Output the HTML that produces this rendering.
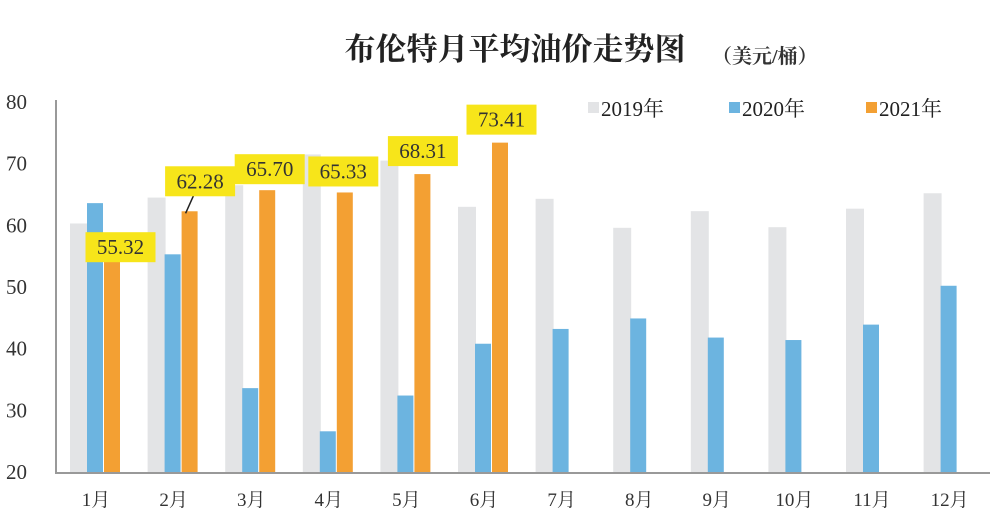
<!DOCTYPE html>
<html><head><meta charset="utf-8">
<style>
html,body{margin:0;padding:0;background:#fff;}
svg{display:block;}
text{font-family:"Liberation Serif","Noto Serif CJK SC",serif;}
</style></head>
<body>
<svg id="chart" width="1000" height="530" viewBox="0 0 1000 530">
<text x="515" y="60" text-anchor="middle" font-size="31" font-weight="bold" fill="#222">布伦特月平均油价走势图</text>
<text x="712" y="63" font-size="20" font-weight="bold" fill="#333">（美元/桶）</text>
<g id="grid"></g>
<g id="bars"></g>
<g id="labels"></g>
<g id="legend">
  <rect x="588" y="102" width="11" height="11" fill="#e3e4e6"/>
  <text x="601" y="116" font-size="21" fill="#222">2019年</text>
  <rect x="729" y="102" width="11" height="11" fill="#6cb4e0"/>
  <text x="742" y="116" font-size="21" fill="#222">2020年</text>
  <rect x="866" y="102" width="11" height="11" fill="#f3a033"/>
  <text x="879" y="116" font-size="21" fill="#222">2021年</text>
</g>
</svg>
<script>
const months = ["1月","2月","3月","4月","5月","6月","7月","8月","9月","10月","11月","12月"];
const s2019 = [60.3,64.5,66.5,71.5,70.5,63.0,64.3,59.6,62.3,59.7,62.7,65.2];
const s2020 = [63.6,55.3,33.6,26.6,32.4,40.8,43.2,44.9,41.8,41.4,43.9,50.2];
const s2021 = [55.32,62.28,65.70,65.33,68.31,73.41];
const s2021Labels = ["55.32","62.28","65.70","65.33","68.31","73.41"];
const yTicks = [20,30,40,50,60,70,80];

const NS="http://www.w3.org/2000/svg";
const X0=70, STEP=77.6, BW=17;
const Y0=472, K=370/60;
function y(v){return Y0-(v-20)*K;}
function gx(i){return X0+i*STEP;}
function mk(tag,attrs,parent){const e=document.createElementNS(NS,tag);for(const k in attrs)e.setAttribute(k,attrs[k]);parent.appendChild(e);return e;}

const grid=document.getElementById('grid');
const ax=mk('line',{x1:56,y1:100,x2:56,y2:Y0+1,stroke:'#999','stroke-width':2},grid);


const xx=mk('line',{x1:55,y1:Y0+1,x2:990,y2:Y0+1,stroke:'#999','stroke-width':2},grid);


yTicks.forEach(t=>{
  const e=mk('text',{x:6,y:y(t)+7,'font-size':21,fill:'#333'},grid);
  e.textContent=t;
  
  
});

const bars=document.getElementById('bars');
months.forEach((m,i)=>{
  const a=mk('rect',{x:gx(i),y:y(s2019[i]),width:BW+1,height:Y0-y(s2019[i]),fill:'#e3e4e6'},bars);
  
  
  const b=mk('rect',{x:gx(i)+BW,y:y(s2020[i]),width:BW-1,height:Y0-y(s2020[i]),fill:'#6cb4e0'},bars);
  
  
  if(i<s2021.length){
    const c=mk('rect',{x:gx(i)+2*BW,y:y(s2021[i]),width:BW-1,height:Y0-y(s2021[i]),fill:'#f3a033'},bars);
    
    
  }
  const t=mk('text',{x:gx(i)+26,y:506,'font-size':19,fill:'#333','text-anchor':'middle'},bars);
  t.textContent=m;
  
  
});

// label box offsets (layout only)
const boxDx=[8,10,2,-2,0,1];
const boxDy=[-22,-45,-36,-36,-38,-38];
const labels=document.getElementById('labels');
s2021.forEach((v,i)=>{
  const cx=gx(i)+2*BW+BW/2+boxDx[i];
  const top=y(v)+boxDy[i];
  if(i===1){
    const l=mk('line',{x1:cx-6,y1:top+28,x2:gx(i)+2*BW+4,y2:y(v)+2,stroke:'#222','stroke-width':1.5},labels);
    
    
  }
  const r=mk('rect',{x:cx-35,y:top,width:70,height:30,fill:'#f7e51a'},labels);
  
  
  const t=mk('text',{x:cx,y:top+22,'font-size':21,fill:'#333','text-anchor':'middle'},labels);
  t.textContent=s2021Labels[i];
  
  
});
</script>
</body></html>
